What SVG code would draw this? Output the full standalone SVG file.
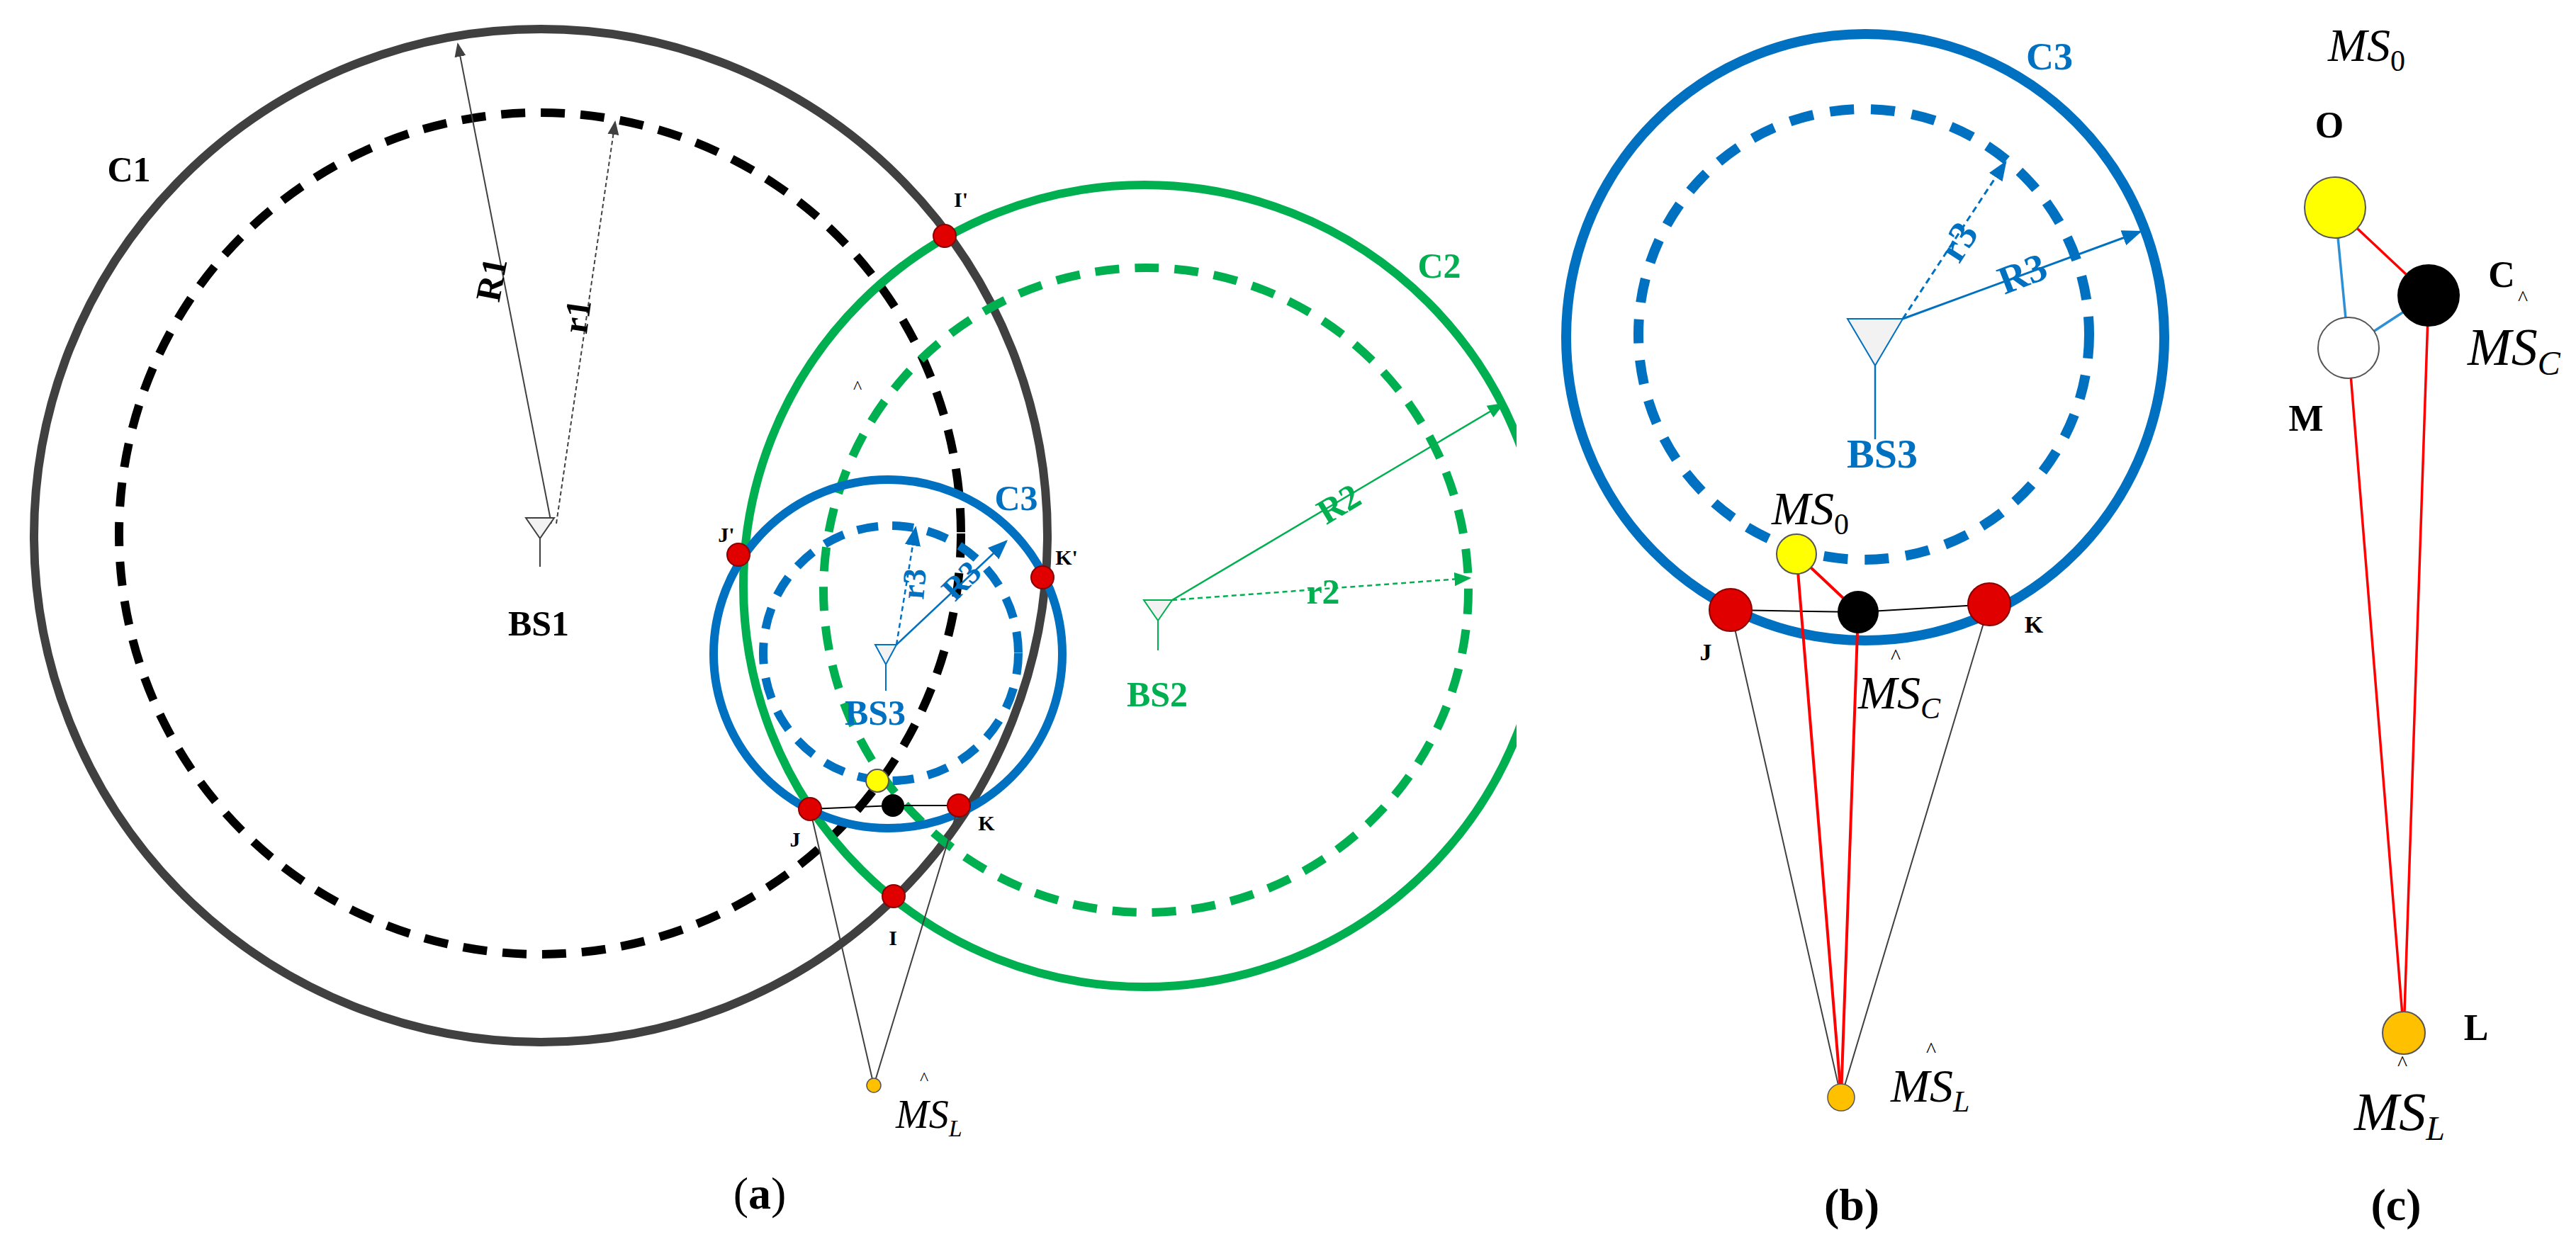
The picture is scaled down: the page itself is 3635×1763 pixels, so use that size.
<svg xmlns="http://www.w3.org/2000/svg" width="3635" height="1763" viewBox="0 0 3635 1763">
<style>
text{font-family:"Liberation Serif",serif;font-weight:bold}
.it{font-style:italic;font-weight:normal}
.up{font-style:normal}
.n{font-weight:normal}
.gr{fill:#404040}.g{fill:#00b050}.b{fill:#0070c0}
.red{fill:#e00000;stroke:#800;stroke-width:2}
</style>
<defs>
<marker id="ak2" viewBox="0 0 10 10" refX="9" refY="5" markerWidth="20" markerHeight="20" markerUnits="userSpaceOnUse" orient="auto"><path d="M0,1L10,5L0,9z" fill="#404040"/></marker>
<marker id="ag" viewBox="0 0 10 10" refX="9" refY="5" markerWidth="24" markerHeight="24" markerUnits="userSpaceOnUse" orient="auto"><path d="M0,1L10,5L0,9z" fill="#00b050"/></marker>
<marker id="ab" viewBox="0 0 10 10" refX="9" refY="5" markerWidth="28" markerHeight="28" markerUnits="userSpaceOnUse" orient="auto"><path d="M0,1L10,5L0,9z" fill="#0070c0"/></marker>
<clipPath id="clipA"><rect x="0" y="0" width="2140" height="1763"/></clipPath>
</defs>
<g id="circles" fill="none">
<circle cx="763" cy="756" r="715" stroke="#404040" stroke-width="12"/>
<circle cx="762" cy="753" r="594" stroke="#000" stroke-width="12" stroke-dasharray="34 22"/>
<g clip-path="url(#clipA)">
<circle cx="1615" cy="827" r="566" stroke="#00b050" stroke-width="12"/>
<circle cx="1617" cy="833" r="455" stroke="#00b050" stroke-width="12" stroke-dasharray="34 22"/>
</g>
<circle cx="1253" cy="923" r="246" stroke="#0070c0" stroke-width="12"/>
<circle cx="1257" cy="922" r="180" stroke="#0070c0" stroke-width="12" stroke-dasharray="30 20"/>
<ellipse cx="2632" cy="476" rx="422" ry="428" stroke="#0070c0" stroke-width="14"/>
<ellipse cx="2630" cy="472" rx="318" ry="318" stroke="#0070c0" stroke-width="14" stroke-dasharray="34 24"/>
</g>
<g id="connectors" fill="none">
<line x1="778" y1="739" x2="646" y2="62" stroke="#404040" stroke-width="2" marker-end="url(#ak2)"/>
<line x1="785" y1="739" x2="868" y2="172" stroke="#404040" stroke-width="2" stroke-dasharray="6 4" marker-end="url(#ak2)"/>
<line x1="1654" y1="847" x2="2121" y2="570" stroke="#00b050" stroke-width="2.5" marker-end="url(#ag)"/>
<line x1="1654" y1="847" x2="2074" y2="816" stroke="#00b050" stroke-width="2.5" stroke-dasharray="7 5" marker-end="url(#ag)"/>
<line x1="1265" y1="910" x2="1420" y2="764" stroke="#0070c0" stroke-width="2.5" marker-end="url(#ab)"/>
<line x1="1265" y1="910" x2="1292" y2="745" stroke="#0070c0" stroke-width="2.5" stroke-dasharray="7 5" marker-end="url(#ab)"/>
<polyline points="1143,1142 1260,1137 1353,1137" stroke="#000" stroke-width="2"/>
<polyline points="1143,1142 1233,1532 1353,1137" stroke="#404040" stroke-width="2"/>
<line x1="2685" y1="450" x2="3020" y2="327" stroke="#0070c0" stroke-width="3" marker-end="url(#ab)"/>
<line x1="2685" y1="450" x2="2830" y2="229" stroke="#0070c0" stroke-width="3" stroke-dasharray="9 6" marker-end="url(#ab)"/>
<polyline points="2442,861 2622,864 2807,853" stroke="#000" stroke-width="2"/>
<polyline points="2442,861 2598,1549 2807,853" stroke="#404040" stroke-width="2"/>
<line x1="2535" y1="782" x2="2598" y2="1549" stroke="#f00" stroke-width="4"/>
<line x1="2622" y1="864" x2="2598" y2="1549" stroke="#f00" stroke-width="4"/>
<line x1="2535" y1="782" x2="2622" y2="864" stroke="#f00" stroke-width="4"/>
<line x1="3295" y1="293" x2="3427" y2="417" stroke="#f00" stroke-width="3.5"/>
<line x1="3295" y1="293" x2="3314" y2="491" stroke="#2d8fd5" stroke-width="3.5"/>
<line x1="3314" y1="491" x2="3427" y2="417" stroke="#2d8fd5" stroke-width="3.5"/>
<line x1="3314" y1="491" x2="3392" y2="1458" stroke="#f00" stroke-width="3.5"/>
<line x1="3427" y1="417" x2="3392" y2="1458" stroke="#f00" stroke-width="3.5"/>
</g>
<g id="bs1"><path d="M742,731H782L762,760Z" fill="#f2f2f2" stroke="#404040" stroke-width="2"/><line x1="762" y1="760" x2="762" y2="800" stroke="#404040" stroke-width="2"/><text x="760" y="897" font-size="50" text-anchor="middle" fill="#000">BS1</text></g>
<g id="bs2"><path d="M1614,847H1654L1634,876Z" fill="#f2f2f2" stroke="#00b050" stroke-width="2"/><line x1="1634" y1="876" x2="1634" y2="918" stroke="#00b050" stroke-width="2"/><text x="1633" y="997" font-size="50" text-anchor="middle" class="g">BS2</text></g>
<g id="bs3a"><path d="M1235,910H1265L1250,938Z" fill="#f2f2f2" stroke="#0070c0" stroke-width="2"/><line x1="1250" y1="938" x2="1250" y2="975" stroke="#0070c0" stroke-width="2"/><text x="1235" y="1023" font-size="50" text-anchor="middle" class="b">BS3</text></g>
<g id="bs3b"><path d="M2607,450H2685L2646,516Z" fill="#f2f2f2" stroke="#0070c0" stroke-width="2"/><line x1="2646" y1="516" x2="2646" y2="620" stroke="#0070c0" stroke-width="2.5"/><text x="2656" y="660" font-size="58" text-anchor="middle" class="b">BS3</text></g>
<g id="labels-a">
<text x="182" y="256" font-size="50" text-anchor="middle">C1</text>
<text x="710" y="398" font-size="50" text-anchor="middle" transform="rotate(-79 710 398)">R1</text>
<text x="831" y="449" font-size="50" text-anchor="middle" transform="rotate(-82 831 449)">r1</text>
<text x="2031" y="392" font-size="50" text-anchor="middle" class="g">C2</text>
<text x="1889" y="728" font-size="50" text-anchor="middle" class="g" transform="rotate(-31 1889 711)">R2</text>
<text x="1867" y="852" font-size="50" text-anchor="middle" class="g">r2</text>
<text x="1434" y="720" font-size="50" text-anchor="middle" class="b">C3</text>
<text x="1289" y="840" font-size="46" text-anchor="middle" class="b" transform="rotate(-85 1289 824)">r3</text>
<text x="1356" y="835" font-size="46" text-anchor="middle" class="b" transform="rotate(-45 1356 819)">R3</text>
<text x="1356" y="292" font-size="30" text-anchor="middle">I'</text>
<text x="1025" y="765" font-size="30" text-anchor="middle">J'</text>
<text x="1505" y="797" font-size="30" text-anchor="middle">K'</text>
<text x="1122" y="1195" font-size="30" text-anchor="middle">J</text>
<text x="1392" y="1172" font-size="30" text-anchor="middle">K</text>
<text x="1260" y="1334" font-size="30" text-anchor="middle">I</text>
<text x="1210" y="555" font-size="26" class="n" text-anchor="middle">^</text>
<text x="1304" y="1531" font-size="26" class="n" text-anchor="middle">^</text>
<text x="1264" y="1592" font-size="56" class="it">MS<tspan font-size="34" dy="12">L</tspan></text>
<text x="1072" y="1706" font-size="64" class="n" text-anchor="middle">(<tspan font-weight="bold">a</tspan>)</text>
</g>
<g id="points-a">
<circle cx="1333" cy="333" r="16" class="red"/>
<circle cx="1042" cy="783" r="16" class="red"/>
<circle cx="1471" cy="815" r="16" class="red"/>
<circle cx="1143" cy="1142" r="16" class="red"/>
<circle cx="1353" cy="1137" r="16" class="red"/>
<circle cx="1261" cy="1265" r="16" class="red"/>
<circle cx="1238" cy="1102" r="16" fill="#ff0" stroke="#555" stroke-width="2"/>
<circle cx="1260" cy="1137" r="16" fill="#000"/>
<circle cx="1233" cy="1532" r="10" fill="#ffc000" stroke="#555" stroke-width="1.5"/>
</g>
<g id="labels-b">
<text x="2892" y="98" font-size="54" text-anchor="middle" class="b">C3</text>
<text x="2854" y="405" font-size="56" text-anchor="middle" class="b" transform="rotate(-21 2854 387)">R3</text>
<text x="2763" y="360" font-size="56" text-anchor="middle" class="b" transform="rotate(-57 2763 341)">r3</text>
<text x="2500" y="740" font-size="66" class="it">MS<tspan class="up" font-size="42" dy="14">0</tspan></text>
<text x="2407" y="932" font-size="34" text-anchor="middle">J</text>
<text x="2870" y="893" font-size="34" text-anchor="middle">K</text>
<text x="2675" y="937" font-size="30" class="n" text-anchor="middle">^</text>
<text x="2622" y="1000" font-size="66" class="it">MS<tspan font-size="42" dy="14">C</tspan></text>
<text x="2725" y="1492" font-size="30" class="n" text-anchor="middle">^</text>
<text x="2668" y="1555" font-size="66" class="it">MS<tspan font-size="42" dy="14">L</tspan></text>
<text x="2613" y="1722" font-size="64" text-anchor="middle">(b)</text>
</g>
<g id="points-b">
<ellipse cx="2442" cy="861" rx="30" ry="30" class="red"/>
<ellipse cx="2807" cy="853" rx="30" ry="30" class="red"/>
<ellipse cx="2535" cy="782" rx="28" ry="28" fill="#ff0" stroke="#555" stroke-width="2"/>
<ellipse cx="2622" cy="864" rx="29" ry="30" fill="#000"/>
<circle cx="2598" cy="1549" r="19" fill="#ffc000" stroke="#555" stroke-width="1.5"/>
</g>
<g id="labels-c">
<text x="3285" y="86" font-size="66" class="it">MS<tspan class="up" font-size="42" dy="14">0</tspan></text>
<text x="3287" y="194" font-size="52" text-anchor="middle">O</text>
<text x="3530" y="405" font-size="52" text-anchor="middle">C</text>
<text x="3560" y="431" font-size="30" class="n" text-anchor="middle">^</text>
<text x="3482" y="515" font-size="74" class="it">MS<tspan font-size="48" dy="14">C</tspan></text>
<text x="3254" y="608" font-size="52" text-anchor="middle">M</text>
<text x="3494" y="1468" font-size="52" text-anchor="middle">L</text>
<text x="3390" y="1511" font-size="30" class="n" text-anchor="middle">^</text>
<text x="3322" y="1595" font-size="76" class="it">MS<tspan font-size="48" dy="14">L</tspan></text>
<text x="3381" y="1722" font-size="64" text-anchor="middle">(c)</text>
</g>
<g id="points-c">
<circle cx="3295" cy="293" r="43" fill="#ff0" stroke="#555" stroke-width="2"/>
<circle cx="3427" cy="417" r="44" fill="#000"/>
<circle cx="3314" cy="491" r="43" fill="#fff" stroke="#555" stroke-width="2"/>
<circle cx="3392" cy="1458" r="30" fill="#ffc000" stroke="#555" stroke-width="2"/>
</g>
</svg>
